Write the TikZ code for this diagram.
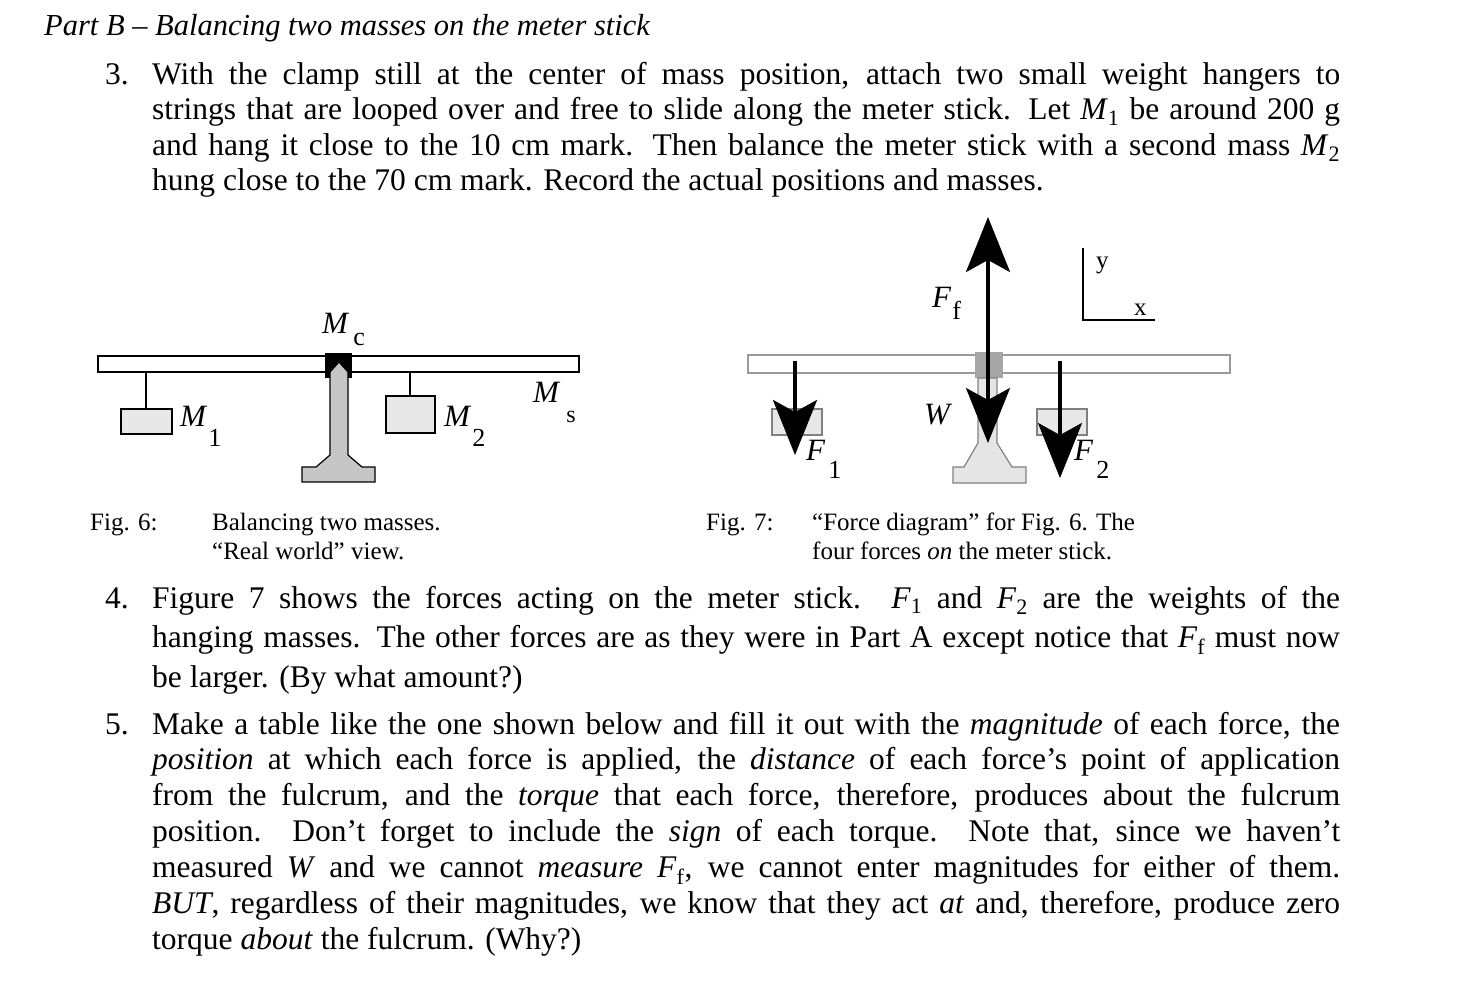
\documentclass[tikz,border=0pt]{standalone}
\usepackage{fontspec}
\setmainfont{Liberation Serif}
\usetikzlibrary{arrows.meta}
\newcommand\Ms[2]{\textit{#1}\textsubscript{#2}}
\tikzset{
 para/.style={anchor=base west,inner sep=0pt,text width=1188pt,align=justify,font=\fontsize{31.5}{35.5}\selectfont},
 num/.style={anchor=base west,inner sep=0pt,font=\fontsize{31.5}{35}\selectfont},
 captxt/.style={anchor=base west,inner sep=0pt,font=\fontsize{25}{29}\selectfont},
 lab/.style={anchor=base west,inner sep=0pt,font=\fontsize{31}{31}\selectfont},
 sublab/.style={anchor=base west,inner sep=0pt,font=\fontsize{25}{25}\selectfont},
 mass/.style={draw=black,line width=1.6pt,fill=gray!18},
 stand/.style={draw=black,line width=1.2pt,fill=gray!45},
 force/.style={line width=3.5pt,-{Stealth[length=55pt,width=44pt,inset=12pt]}},
}
\begin{document}
\begin{tikzpicture}[x=1pt,y=-1pt]
\useasboundingbox (0,0) rectangle (1468,988);
% title
\node[num,font=\fontsize{30.5}{35}\selectfont\itshape] (title) at (44,35) {Part B -- Balancing two masses on the meter stick};
% item 3
\node[num] (n3) at (105,84) {3.};
\node[para] (p3) at (152,84) {With the clamp still at the center of mass position, attach two small weight hangers to\linebreak strings that are looped over and free to slide along the meter stick. Let \Ms{M}{1} be around 200 g\linebreak and hang it close to the 10 cm mark. Then balance the meter stick with a second mass \Ms{M}{2}\linebreak hung close to the 70 cm mark. Record the actual positions and masses.};
% ---------- Fig 6
\draw[line width=1.6pt] (146,372) -- (146,409);
\draw[line width=1.6pt] (410,360) -- (410,396);
\node[mass,minimum width=51pt,minimum height=25pt,inner sep=0pt] (m1) at (146.5,421.5) {};
\node[mass,minimum width=49pt,minimum height=37pt,inner sep=0pt] (m2) at (410.5,414.5) {};
\draw[line width=1.6pt,fill=white] (98,356) rectangle (579,372);
\fill (325,353) rectangle (352,378);
\draw[stand] (330,455)--(330,372)--(339,362)--(348,372)--(348,455)--(362,467)--(375,467)--(375,482)--(302,482)--(302,467)--(316,467)--cycle;
\node[lab] (lmc) at (322,333) {\textit{M}\hspace{4pt}\raisebox{-12pt}{\fontsize{26}{26}\selectfont c}};
\node[lab] (lm1) at (180,426) {\textit{M}\hspace{1pt}\raisebox{-20pt}{\fontsize{26}{26}\selectfont 1}};
\node[lab] (lm2) at (444,426) {\textit{M}\hspace{1pt}\raisebox{-20pt}{\fontsize{26}{26}\selectfont 2}};
\node[lab] (lms) at (533,402) {\textit{M}\hspace{6pt}\raisebox{-20pt}{\fontsize{24}{24}\selectfont s}};
\node[captxt] (f6) at (90,530) {Fig. 6:};
\node[captxt] (c6a) at (212,530) {Balancing two masses.};
\node[captxt] (c6b) at (212,559) {``Real world'' view.};
% ---------- Fig 7
\node[mass,draw=gray,minimum width=50pt,minimum height=26pt,inner sep=0pt] (g1) at (797,422) {};
\node[mass,draw=gray,minimum width=50pt,minimum height=26pt,inner sep=0pt] (g2) at (1062,422) {};
\draw[draw=gray!80,line width=2pt,fill=white] (748,355) rectangle (1230,373);
\fill[gray!70] (975,352) rectangle (1003,378);
\draw[stand,draw=gray,fill=gray!20] (978,443)--(978,378)--(997,378)--(997,443)--(1012,467)--(1026,467)--(1026,483)--(953,483)--(953,467)--(964,467)--cycle;
\coordinate (ffs) at (988,410); \coordinate (ffe) at (988,217);
\coordinate (ws) at (988,360); \coordinate (we) at (988,443);
\coordinate (f1s) at (795,361); \coordinate (f1e) at (795,455);
\coordinate (f2s) at (1060,361); \coordinate (f2e) at (1060,478);
\draw[force] (ffs) -- (ffe);
\draw[force] (ws) -- (we);
\draw[force] (f1s) -- (f1e);
\draw[force] (f2s) -- (f2e);
\node[lab] (lff) at (932,307) {\textit{F}\hspace{1pt}\raisebox{-12pt}{\fontsize{26}{26}\selectfont f}};
\node[lab] (lw) at (924,424) {\textit{W}};
\node[lab] (lf1) at (806,460) {\textit{F}\hspace{3pt}\raisebox{-18pt}{\fontsize{26}{26}\selectfont 1}};
\node[lab] (lf2) at (1074,460) {\textit{F}\hspace{3pt}\raisebox{-18pt}{\fontsize{26}{26}\selectfont 2}};
\coordinate (ax0) at (1083,320); \coordinate (axy) at (1083,248); \coordinate (axx) at (1155,320);
\draw[line width=1.5pt] (axy) -- (ax0) -- (axx);
\node[sublab] (ly) at (1096,268) {y};
\node[sublab] (lx) at (1134,315) {x};
\node[captxt] (f7) at (706,530) {Fig. 7:};
\node[captxt] (c7a) at (812,530) {``Force diagram'' for Fig. 6. The};
\node[captxt] (c7b) at (812,559) {four forces \textit{on} the meter stick.};
% item 4
\node[num] (n4) at (105,608) {4.};
\node[para,font=\fontsize{31.5}{39.5}\selectfont] (p4) at (152,608) {Figure 7 shows the forces acting on the meter stick. \Ms{F}{1} and \Ms{F}{2} are the weights of the\linebreak hanging masses. The other forces are as they were in Part A except notice that \Ms{F}{f} must now\linebreak be larger. (By what amount?)};
% item 5
\node[num] (n5) at (105,734) {5.};
\node[para,font=\fontsize{31.5}{35.9}\selectfont] (p5) at (152,734) {Make a table like the one shown below and fill it out with the \textit{magnitude} of each force, the\linebreak \textit{position} at which each force is applied, the \textit{distance} of each force's point of application\linebreak from the fulcrum, and the \textit{torque} that each force, therefore, produces about the fulcrum\linebreak position. Don't forget to include the \textit{sign} of each torque. Note that, since we haven't\linebreak measured \textit{W} and we cannot \textit{measure} \Ms{F}{f}, we cannot enter magnitudes for either of them.\linebreak \textit{BUT}, regardless of their magnitudes, we know that they act \textit{at} and, therefore, produce zero\linebreak torque \textit{about} the fulcrum. (Why?)};
\end{tikzpicture}
\end{document}
